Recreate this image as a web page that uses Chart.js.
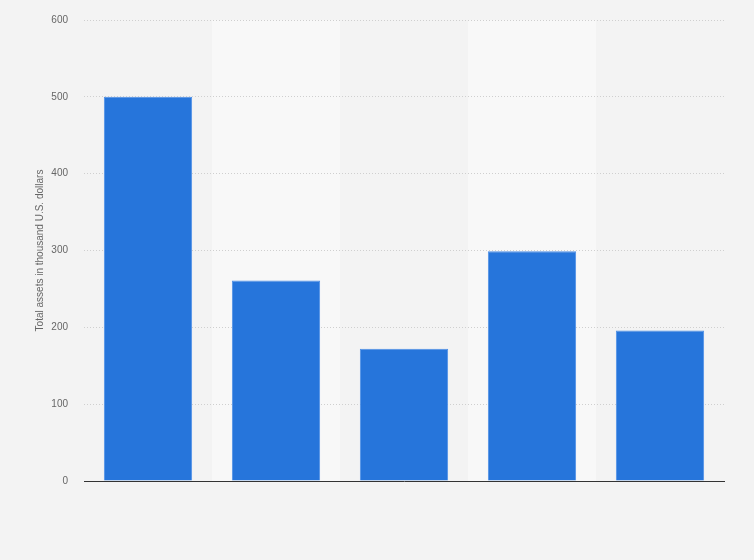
<!DOCTYPE html>
<html>
<head>
<meta charset="utf-8">
<script src="https://cdn.jsdelivr.net/npm/chart.js@4/dist/chart.umd.min.js"></script>
<style>
  html, body { margin: 0; padding: 0; background: #f3f3f3; }
  #wrap { width: 754px; height: 560px; position: relative; }
</style>
</head>
<body>
<div id="wrap"><canvas id="c" width="754" height="560"></canvas></div>
<script>
const categories = ["Category 1", "Category 2", "Category 3", "Category 4", "Category 5"];
const totalAssets = [500, 261, 172, 299, 196];
const yTicks = [0, 100, 200, 300, 400, 500, 600];
const yTitle = "Total assets in thousand U.S. dollars";

const bandPlugin = {
  id: 'bands',
  beforeDraw(chart) {
    const { ctx, chartArea, scales } = chart;
    const x = scales.x;
    const step = x.width / categories.length;
    ctx.save();
    ctx.fillStyle = '#f8f8f8';
    categories.forEach((c, i) => {
      if (i % 2 === 1) {
        const cx = x.getPixelForValue(i);
        ctx.fillRect(cx - step / 2, chartArea.top, step, chartArea.bottom - chartArea.top);
      }
    });
    ctx.restore();
  }
};

new Chart(document.getElementById('c'), {
  type: 'bar',
  data: {
    labels: categories,
    datasets: [{
      data: totalAssets,
      backgroundColor: '#2675db',
      borderColor: '#4d8fe6',
      borderWidth: 1,
      barPercentage: 0.69,
      categoryPercentage: 1
    }]
  },
  options: {
    responsive: false,
    animation: false,
    layout: { padding: { left: 34, right: 30, top: 20, bottom: 79 } },
    plugins: { legend: { display: false }, tooltip: { enabled: false } },
    scales: {
      x: {
        ticks: { display: false },
        grid: { display: false, drawTicks: false },
        border: { display: true, color: '#333333', width: 1 }
      },
      y: {
        min: 0, max: 600,
        afterBuildTicks(axis) { axis.ticks = yTicks.map(v => ({ value: v })); },
        afterFit(axis) { axis.width = 50; axis.paddingTop = 0; axis.paddingBottom = 0; },
        ticks: { color: '#666666', padding: 16, font: { family: "'Liberation Sans', Arial, sans-serif", size: 10 } },
        grid: { color: '#cfcfcf', drawTicks: false, lineWidth: 1 },
        border: { display: false, dash: [1, 2] },
        title: { display: true, text: yTitle, color: '#666666', padding: { top: 0, bottom: 0 }, font: { family: "'Liberation Sans', Arial, sans-serif", size: 10 } }
      }
    }
  },
  plugins: [bandPlugin]
});
</script>
</body>
</html>
